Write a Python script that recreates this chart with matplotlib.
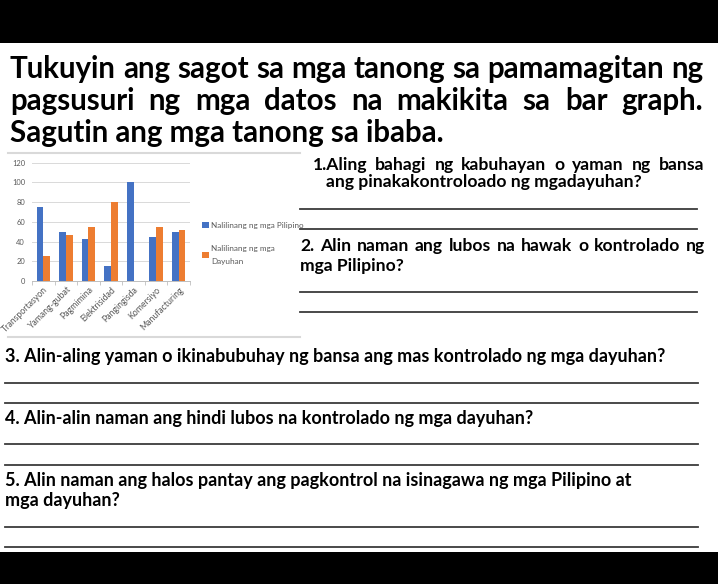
import matplotlib
matplotlib.use('Agg')
import matplotlib.pyplot as plt
import numpy as np
from matplotlib.lines import Line2D
from matplotlib.patches import Rectangle

# datos ng bar graph
kategorya = ['Transportasyon', 'Yamang-gubat', 'Pagmimina', 'Elektrisidad',
             'Pangingisda', 'Komersiyo', 'Manufacturing']
pilipino = [75, 50, 43, 15, 100, 45, 50]
dayuhan = [25, 47, 55, 80, 0, 55, 52]
y_ticks = [0, 20, 40, 60, 80, 100, 120]
lbl_pil = 'Nalilinang ng mga Pilipino'
lbl_day = 'Nalilinang ng mga\nDayuhan'

title = ['Tukuyin ang sagot sa mga tanong sa pamamagitan ng',
         'pagsusuri ng mga datos na makikita sa bar graph.',
         'Sagutin ang mga tanong sa ibaba.']
q1 = ['1.Aling bahagi ng kabuhayan o yaman ng bansa',
      'ang pinakakontroloado ng mgadayuhan?']
q2 = ['2. Alin naman ang lubos na hawak o kontrolado ng', 'mga Pilipino?']
q3 = '3. Alin-aling yaman o ikinabubuhay ng bansa ang mas kontrolado ng mga dayuhan?'
q4 = '4. Alin-alin naman ang hindi lubos na kontrolado ng mga dayuhan?'
q5 = ['5. Alin naman ang halos pantay ang pagkontrol na isinagawa ng mga Pilipino at',
      'mga dayuhan?']

blue = '#4472C4'
orange = '#ED7D31'
grey_txt = '#595959'

W, H = 718, 584
fig = plt.figure(figsize=(W / 100, H / 100), dpi=100)
rend = fig.canvas.get_renderer()


def fx(px):
    return px / W


def fy(py):
    return 1 - py / H


def width_of(s, size, **kw):
    t = fig.text(0, 0, s, fontsize=size, **kw)
    w = t.get_window_extent(rend).width
    t.remove()
    return w


def fit(s, px, **kw):
    return 10 * px / width_of(s, 10, **kw)


def put(s, x, yb, size, **kw):
    fig.text(fx(x), fy(yb), s, fontsize=size, va='baseline', ha='left', **kw)


def justify(s, x0, x1, yb, size, **kw):
    words = s.split()
    ws = [width_of(w, size, **kw) for w in words]
    gap = (x1 - x0 - sum(ws)) / (len(words) - 1)
    x = x0
    for w, wd in zip(words, ws):
        put(w, x, yb, size, **kw)
        x += wd + gap


def hline(y, x0, x1, color='#3c3c3c', lw=1.3):
    fig.add_artist(Line2D([fx(x0), fx(x1)], [fy(y), fy(y)], color=color, lw=lw))


# itim na guhit sa itaas at ibaba
fig.add_artist(Rectangle((0, fy(43)), 1, 43 / H, color='black', lw=0))
fig.add_artist(Rectangle((0, 0), 1, (H - 552) / H, color='black', lw=0))

bold = dict(family='Lato', weight='bold', color='black')

# pamagat
s_t = fit(title[2], 433, **bold)
justify(title[0], 10, 703, 78, s_t, **bold)
justify(title[1], 10, 703, 110, s_t, **bold)
put(title[2], 10, 142, s_t, **bold)

# tanong 1 at 2
s_q = fit(q1[1], 314, **bold)
justify(q1[0], 313, 704, 170, s_q, **bold)
put(q1[1], 326, 187, s_q, **bold)
hline(209, 300, 697)
hline(229, 300, 697)
justify(q2[0], 300, 705, 251, s_q, **bold)
put(q2[1], 300, 271, s_q, **bold)
hline(292, 300, 697)
hline(312, 300, 697)

# tanong 3-5
s_b = fit(q3, 658, **bold)
put(q3, 5, 362, s_b, **bold)
hline(383, 5, 698)
hline(403, 5, 698)
put(q4, 5, 424, s_b, **bold)
hline(444, 5, 698)
hline(465, 5, 698)
put(q5[0], 5, 486, s_b, **bold)
put(q5[1], 5, 506, s_b, **bold)
hline(527, 5, 698)
hline(547, 5, 698)

# kuwadro ng tsart
hline(153, 8, 300, color='#d9d9d9', lw=1.5)
hline(337, 8, 300, color='#d9d9d9', lw=1.5)

# bar graph
ax = fig.add_axes([fx(32), fy(281), fx(190) - fx(32), (281 - 162.7) / H])
x = np.arange(len(kategorya))
ax.bar(x - 0.15, pilipino, 0.3, color=blue, label=lbl_pil, zorder=3)
ax.bar(x + 0.15, dayuhan, 0.3, color=orange, label=lbl_day, zorder=3)
ax.set_xlim(-0.5, len(kategorya) - 0.5)
ax.set_ylim(0, 120)
ax.set_yticks(y_ticks)
ax.yaxis.grid(True, color='#d9d9d9', lw=0.7)
ax.set_axisbelow(True)
for sp in ['left', 'right', 'top']:
    ax.spines[sp].set_visible(False)
ax.spines['bottom'].set_color('#bfbfbf')
ax.spines['bottom'].set_linewidth(0.7)

fs_tick = fit('Pangingisda', 46, family='Lato')
fs_y = fit('120', 13, family='Lato')
ax.set_xticks(x)
ax.set_xticklabels(kategorya, rotation=45, ha='right', rotation_mode='anchor',
                   fontsize=fs_tick, color=grey_txt, family='Lato')
ax.set_xticks(np.arange(-0.5, len(kategorya), 1), minor=True)
ax.tick_params(axis='x', which='major', length=0, pad=3)
ax.tick_params(axis='x', which='minor', length=3, color='#bfbfbf', width=0.6)
ax.tick_params(axis='y', length=0, pad=5, labelsize=fs_y, labelcolor=grey_txt)
for t in ax.get_yticklabels():
    t.set_family('Lato')

fs_leg = fit(lbl_pil, 92, family='Lato')
leg = ax.legend(loc='upper left', bbox_to_anchor=(fx(202), fy(222)),
                bbox_transform=fig.transFigure, frameon=False,
                handlelength=0.8, handleheight=0.8, handletextpad=0.3,
                labelspacing=2.0, borderpad=0, borderaxespad=0,
                prop=dict(family='Lato', size=fs_leg))
for t in leg.get_texts():
    t.set_color(grey_txt)
    t.set_linespacing(1.9)

fig.savefig('out.png', dpi=100)
